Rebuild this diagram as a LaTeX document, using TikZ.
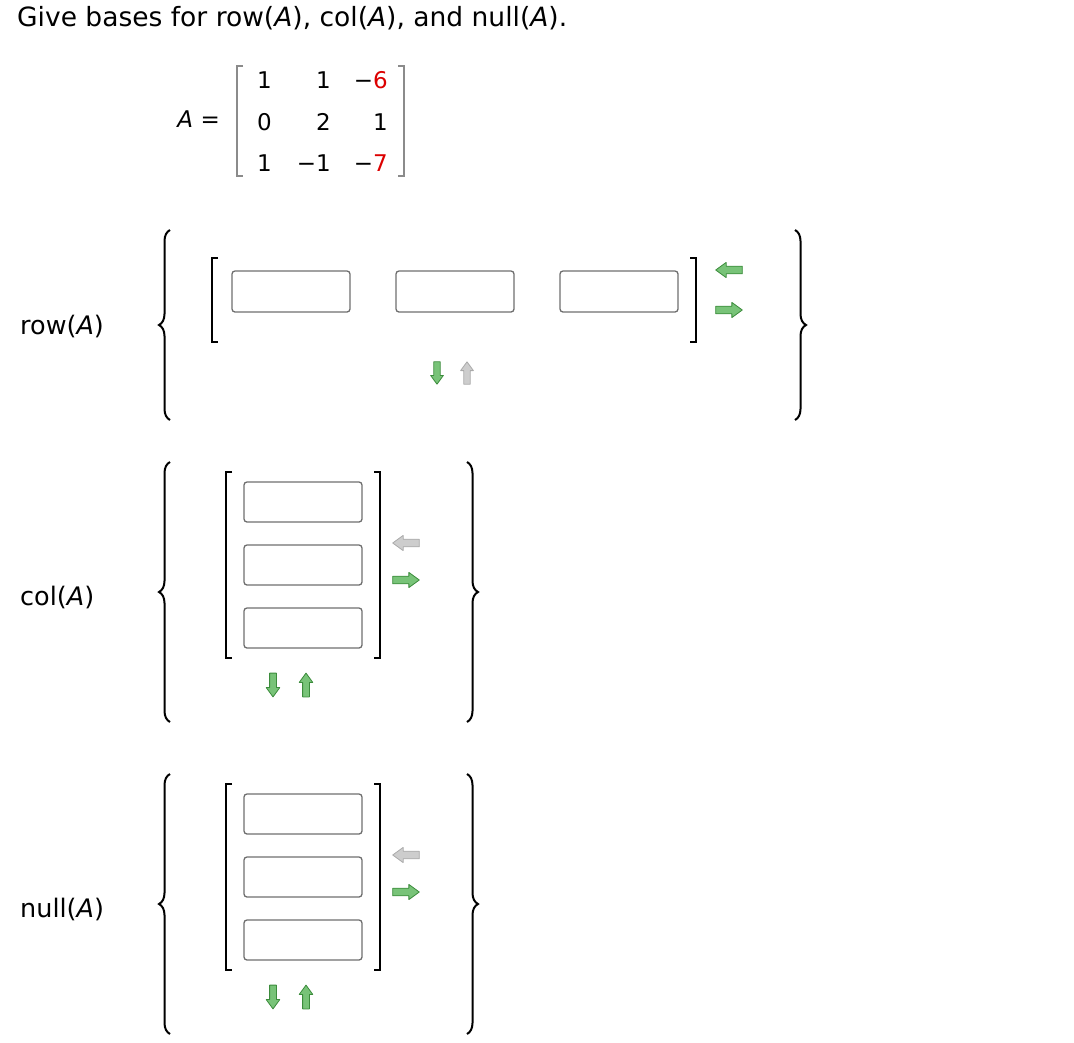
\documentclass[tikz,border=0pt]{standalone}
\usepackage{fontspec}
\setmainfont{DejaVu Sans}
\usetikzlibrary{decorations.pathreplacing}
\definecolor{brk}{RGB}{110,110,110}
\definecolor{gfill}{RGB}{120,195,120}
\definecolor{gline}{RGB}{60,140,60}
\definecolor{hfill}{RGB}{205,205,205}
\definecolor{hline}{RGB}{170,170,170}
\definecolor{red6}{RGB}{220,0,0}
\tikzset{
  txt/.style={font=\fontsize{23}{27}\selectfont, inner sep=0pt},
  lbl/.style={font=\fontsize{25.5}{30}\selectfont, inner sep=0pt, anchor=west},
  ibox/.style={draw=brk, line width=1.3pt, rounded corners=3pt},
  brace/.style={decorate, decoration={brace, amplitude=11pt}, line width=2pt},
  pics/barrow/.style args={#1/#2}{code={
    \draw[draw=#2, fill=#1, line width=0.8pt, line join=round]
      (-14,-4) -- (3,-4) -- (3,-8) -- (14,0) -- (3,8) -- (3,4) -- (-14,4) -- cycle;}}
}
\begin{document}
\begin{tikzpicture}[x=1pt,y=-1pt]
\useasboundingbox (0,0) rectangle (1074,1042);
\node[txt, anchor=west, font=\fontsize{26.5}{30}\selectfont] (title) at (17,18) {Give bases for row(\textit{A}), col(\textit{A}), and null(\textit{A}).};
% matrix
\node[txt, anchor=east] (Aeq) at (220,119) {\textit{A} =};
\node[txt, anchor=east] (m11) at (272,80) {1};
\node[txt, anchor=east] (m12) at (331,80) {1};
\node[txt, anchor=east] (m13) at (388,80) {−\textcolor{red6}{6}};
\node[txt, anchor=east] (m21) at (272,122) {0};
\node[txt, anchor=east] (m22) at (331,122) {2};
\node[txt, anchor=east] (m23) at (388,122) {1};
\node[txt, anchor=east] (m31) at (272,163) {1};
\node[txt, anchor=east] (m32) at (331,163) {−1};
\node[txt, anchor=east] (m33) at (388,163) {−\textcolor{red6}{7}};
\draw[brk!80, line width=1.8pt] (243,66) -- (237,66) -- (237,176) -- (243,176);
\draw[brk!80, line width=1.8pt] (398,66) -- (404,66) -- (404,176) -- (398,176);
% row(A)
\node[lbl] (rowl) at (20,327) {row(\textit{A})};
\draw[brace] (170,420) -- (170,230);
\draw[brace] (795,230) -- (795,420);
\draw[line width=1.5pt] (218,258) -- (212,258) -- (212,342) -- (218,342);
\draw[line width=1.5pt] (690,258) -- (696,258) -- (696,342) -- (690,342);
\node[ibox, minimum width=118pt, minimum height=41pt] (r1) at (291,291.5) {};
\node[ibox, minimum width=118pt, minimum height=41pt] (r2) at (455,291.5) {};
\node[ibox, minimum width=118pt, minimum height=41pt] (r3) at (619,291.5) {};
\pic[rotate=180, scale=0.95] (ra1) at (729,270) {barrow={gfill/gline}};
\pic[scale=0.95] (ra2) at (729,310) {barrow={gfill/gline}};
\pic[rotate=-90, scale=0.8] (ra3) at (437,373) {barrow={gfill/gline}};
\pic[rotate=90, scale=0.8] (ra4) at (467,373) {barrow={hfill/hline}};
% col(A) and null(A)
\foreach \nm/\lab/\dy in {c/col/0, n/null/312}{
  \begin{scope}[yshift=-\dy pt]
  \node[lbl] (\nm l) at (20,597) {\lab(\textit{A})};
  \draw[brace] (170,722) -- (170,462);
  \draw[brace] (467,462) -- (467,722);
  \draw[line width=1.5pt] (232,472) -- (226,472) -- (226,658) -- (232,658);
  \draw[line width=1.5pt] (374,472) -- (380,472) -- (380,658) -- (374,658);
  \node[ibox, minimum width=118pt, minimum height=40pt] (\nm 1) at (303,502) {};
  \node[ibox, minimum width=118pt, minimum height=40pt] (\nm 2) at (303,565) {};
  \node[ibox, minimum width=118pt, minimum height=40pt] (\nm 3) at (303,628) {};
  \pic[rotate=180, scale=0.95] (\nm a1) at (406,543) {barrow={hfill/hline}};
  \pic[scale=0.95] (\nm a2) at (406,580) {barrow={gfill/gline}};
  \pic[rotate=-90, scale=0.85] (\nm a3) at (273,685) {barrow={gfill/gline}};
  \pic[rotate=90, scale=0.85] (\nm a4) at (306,685) {barrow={gfill/gline}};
  \end{scope}
}
\end{tikzpicture}
\end{document}
